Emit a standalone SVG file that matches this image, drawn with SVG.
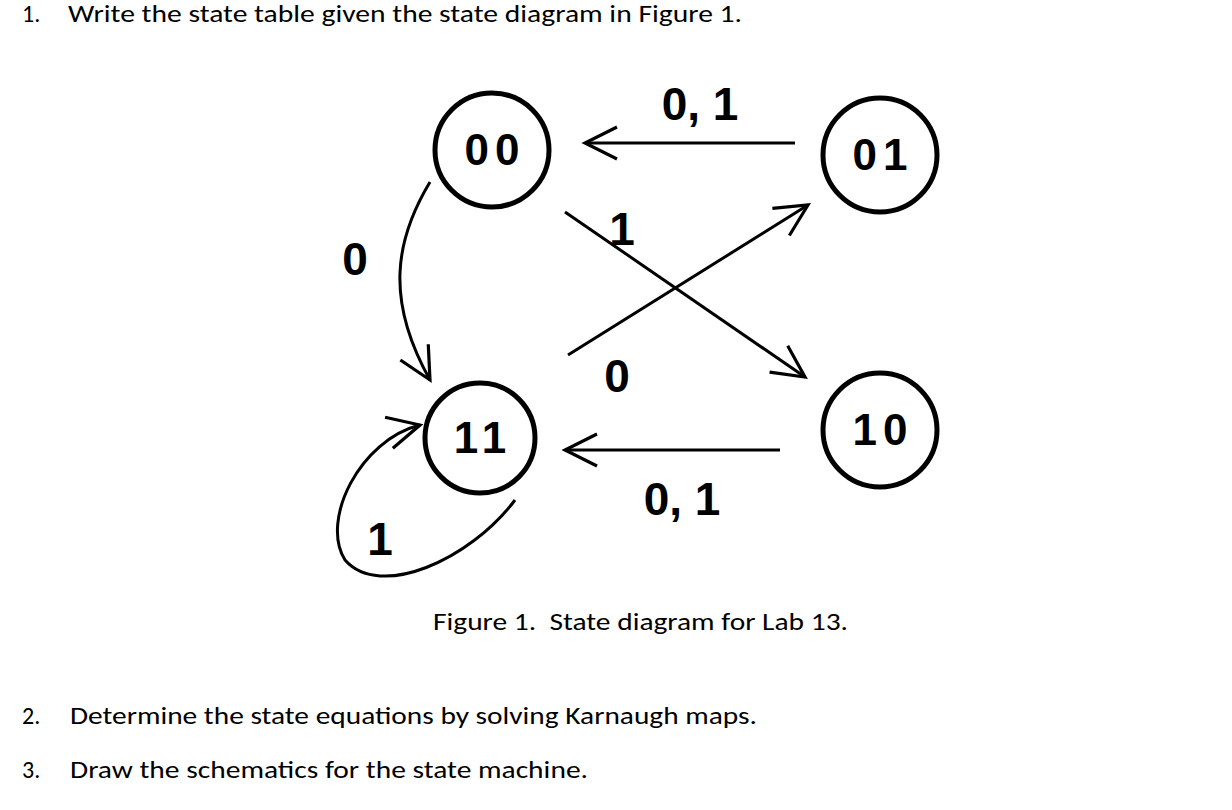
<svg xmlns="http://www.w3.org/2000/svg" width="1232" height="810" viewBox="0 0 1232 810">
<defs>
<style>
.st{fill:#fff;stroke:#000;stroke-width:5}
.nl{font-family:"Liberation Sans",Arial,sans-serif;font-size:44px;font-weight:bold;letter-spacing:6px;text-anchor:middle}
.el{font-family:"Liberation Sans",Arial,sans-serif;font-size:46px;font-weight:bold;text-anchor:middle}
.tx{font-family:"Carlito","Open Sans","Liberation Sans",sans-serif;font-size:24px}
.ln{fill:none;stroke:#000;stroke-width:3}
</style>
<marker id="ah2" viewBox="0 0 20 20" refX="18" refY="10" markerWidth="40" markerHeight="40" markerUnits="userSpaceOnUse" orient="auto">
<path d="M2,2 L18,10 L2,18" fill="none" stroke="#000" stroke-width="1.6"/>
</marker>
</defs>
<rect width="1232" height="810" fill="#fff"/>
<text class="tx" x="22" y="22">1.</text>
<text class="tx" x="68" y="22" textLength="674" lengthAdjust="spacingAndGlyphs">Write the state table given the state diagram in Figure 1.</text>
<g id="connectors">
<line class="ln" x1="795" y1="143" x2="585" y2="143" marker-end="url(#ah2)"/>
<line class="ln" x1="565" y1="212" x2="805" y2="377" marker-end="url(#ah2)"/>
<line class="ln" x1="568" y1="355" x2="808" y2="205" marker-end="url(#ah2)"/>
<line class="ln" x1="780" y1="450" x2="565" y2="450" marker-end="url(#ah2)"/>
<path class="ln" d="M430,182 C395,240 385,300 430,380" marker-end="url(#ah2)"/>
<path class="ln" d="M515,500 C470,560 380,600 345,560 C320,520 360,440 420,425" marker-end="url(#ah2)"/>
<text class="el" x="700" y="120" xml:space="preserve">0, 1</text>
<text class="el" x="622" y="245">1</text>
<text class="el" x="617" y="392">0</text>
<text class="el" x="682" y="515" xml:space="preserve">0, 1</text>
<text class="el" x="355" y="275">0</text>
<text class="el" x="380" y="555">1</text>
</g>
<g id="n00"><circle class="st" cx="492" cy="150" r="57"/><text class="nl" x="495" y="165">00</text></g>
<g id="n01"><circle class="st" cx="880" cy="155" r="57"/><text class="nl" x="883" y="170">01</text></g>
<g id="n11"><circle class="st" cx="480" cy="438" r="55"/><text class="nl" x="483" y="453">11</text></g>
<g id="n10"><circle class="st" cx="880" cy="430" r="57"/><text class="nl" x="883" y="445">10</text></g>
<text class="tx" x="433" y="630" textLength="415" lengthAdjust="spacingAndGlyphs" xml:space="preserve">Figure 1.  State diagram for Lab 13.</text>
<text class="tx" x="22" y="724">2.</text>
<text class="tx" x="70" y="724" textLength="687" lengthAdjust="spacingAndGlyphs">Determine the state equations by solving Karnaugh maps.</text>
<text class="tx" x="22" y="778">3.</text>
<text class="tx" x="70" y="778" textLength="518" lengthAdjust="spacingAndGlyphs">Draw the schematics for the state machine.</text>
</svg>
